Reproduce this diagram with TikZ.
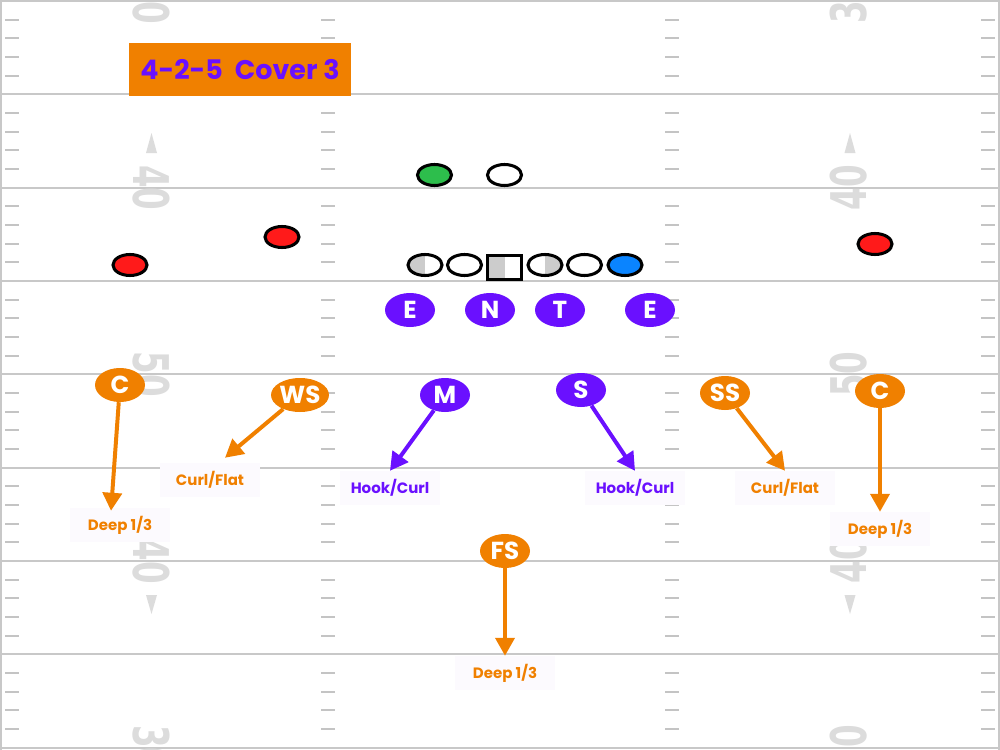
\documentclass[tikz,border=0pt]{standalone}
\usepackage{fontspec}
\usepackage{graphicx}
\usepackage{xcolor}
\setmainfont{Poppins}
\newfontfamily\numfont{DejaVu Sans}
\usetikzlibrary{shapes.geometric, arrows.meta, calc}
\definecolor{fieldline}{HTML}{C8C8C8}
\definecolor{hashgray}{HTML}{C4C4C4}
\definecolor{numgray}{HTML}{DCDCDC}
\definecolor{dorange}{HTML}{F08000}
\definecolor{dpurple}{HTML}{6A10FF}
\definecolor{halfgray}{HTML}{CCCCCC}
\definecolor{zonebg}{HTML}{FCFAFE}
\definecolor{wrred}{HTML}{FF1A1A}
\definecolor{qbgreen}{HTML}{2DBE4C}
\definecolor{teblue}{HTML}{0A84FF}
\tikzstyle{yard} = [draw=fieldline, line width=1.7pt]
\tikzstyle{hashmark} = [draw=hashgray, line width=1.7pt]
\tikzstyle{ynum} = [text=numgray, inner sep=0pt, font=\numfont\bfseries\fontsize{42}{42}\selectfont]
\tikzstyle{offplayer} = [ellipse, draw=black, line width=2.6pt, fill=white, minimum width=10.2mm, minimum height=6.3mm, inner sep=0pt]
\tikzstyle{lefthalf} = [path picture={\fill[halfgray] (path picture bounding box.south west) rectangle (path picture bounding box.north);}]
\tikzstyle{righthalf} = [path picture={\fill[halfgray] (path picture bounding box.south) rectangle (path picture bounding box.north east);}]
\tikzstyle{defplayer} = [ellipse, minimum width=15mm, minimum height=10.2mm, inner sep=0pt, text=white, font=\bfseries\fontsize{21}{21}\selectfont]
\tikzstyle{zonelabel} = [rectangle, fill=zonebg, minimum width=30mm, minimum height=10.2mm, font=\bfseries\fontsize{12.8}{13}\selectfont]
\tikzstyle{zonearrow} = [line width=3.4pt, -{Triangle[length=5.4mm, width=5.7mm]}]

\begin{document}
\begin{tikzpicture}[x=0.3mm, y=-0.3mm]
    \useasboundingbox (0,0) rectangle (1000,750);
    \clip (0,0) rectangle (1000,750);
    \fill[white] (0,0) rectangle (1000,750);

    % field
    \foreach \k in {0,...,7}
        \foreach \j in {1,...,4}
            \foreach \hx in {5,321,665,981}
                \draw[hashmark] (\hx,1+93.35*\k+18.67*\j) -- ++(14,0);
    \foreach \k in {0,...,8}
        \draw[yard] (0,1+93.35*\k) -- (1000,1+93.35*\k);
    \draw[yard] (1,0) -- (1,750);
    \draw[yard] (999,0) -- (999,750);

    % yard numbers
    \foreach \yy/\txt in {1/30, 187.7/40, 374.3/50, 561/40, 747.8/30} {
        \node[ynum, rotate=-90] at (151.5,\yy) {\scalebox{0.66}[1]{\txt}};
        \node[ynum, rotate=90] at (849,\yy) {\scalebox{0.66}[1]{\txt}};
    }
    \foreach \nx in {151.5,850} {
        \fill[numgray] (\nx-5.5,153) -- (\nx+5.5,153) -- (\nx,133) -- cycle;
        \fill[numgray] (\nx-5.5,595) -- (\nx+5.5,595) -- (\nx,614) -- cycle;
    }

    \node (title) [rectangle, fill=dorange, text=dpurple, minimum width=66.6mm, minimum height=15.9mm, font=\bfseries\fontsize{23}{23}\selectfont] at (240,69.5) {4-2-5\hspace{0.45em}Cover 3};

    % offense
    \node (qb) [offplayer, fill=qbgreen] at (434.5,175) {};
    \node (rb) [offplayer] at (504.5,175) {};
    \node (wr1) [offplayer, fill=wrred] at (130,265) {};
    \node (wr2) [offplayer, fill=wrred] at (282,237) {};
    \node (wr3) [offplayer, fill=wrred] at (875,244) {};
    \node (lt) [offplayer, lefthalf] at (425,265) {};
    \node (lg) [offplayer] at (464.5,265) {};
    \node (ctr) [rectangle, draw=black, line width=2.6pt, fill=white, lefthalf, minimum width=10.2mm, minimum height=7.2mm, inner sep=0pt] at (504.5,267.5) {};
    \node (rg) [offplayer, righthalf] at (545,265) {};
    \node (rt) [offplayer] at (584.5,265) {};
    \node (te) [offplayer, fill=teblue] at (625,265) {};

    % defense
    \node (de1) [defplayer, fill=dpurple] at (410,310) {E};
    \node (nt) [defplayer, fill=dpurple] at (490,310) {N};
    \node (dt) [defplayer, fill=dpurple] at (560,310) {T};
    \node (de2) [defplayer, fill=dpurple] at (650,310) {E};
    \node (mlb) [defplayer, fill=dpurple] at (445,395) {M};
    \node (slb) [defplayer, fill=dpurple] at (581,390) {S};
    \node (cbl) [defplayer, fill=dorange] at (120,385) {C};
    \node (ws) [defplayer, fill=dorange] at (300,395) {WS};
    \node (ss) [defplayer, fill=dorange] at (725,393) {SS};
    \node (cbr) [defplayer, fill=dorange] at (880,391) {C};
    \node (fs) [defplayer, fill=dorange] at (505,551) {FS};

    % zones
    \node (deepl) [zonelabel, text=dorange] at (120,525) {Deep 1/3};
    \node (flatl) [zonelabel, text=dorange] at (210,480) {Curl/Flat};
    \node (hookl) [zonelabel, text=dpurple] at (390,488) {Hook/Curl};
    \node (hookr) [zonelabel, text=dpurple] at (635,488) {Hook/Curl};
    \node (flatr) [zonelabel, text=dorange] at (785,488) {Curl/Flat};
    \node (deepr) [zonelabel, text=dorange] at (880,529) {Deep 1/3};
    \node (deepm) [zonelabel, text=dorange] at (505,673) {Deep 1/3};

    \draw[zonearrow, dorange] (cbl) -- ($(deepl.north)+(-9,3)$);
    \draw[zonearrow, dorange] (ws) -- ($(flatl.north)+(15,-5)$);
    \draw[zonearrow, dpurple] (mlb) -- (hookl.north);
    \draw[zonearrow, dpurple] (slb) -- (hookr.north);
    \draw[zonearrow, dorange] (ss) -- (flatr.north);
    \draw[zonearrow, dorange] (cbr) -- (deepr.north);
    \draw[zonearrow, dorange] (fs) -- (deepm.north);
\end{tikzpicture}
\end{document}
